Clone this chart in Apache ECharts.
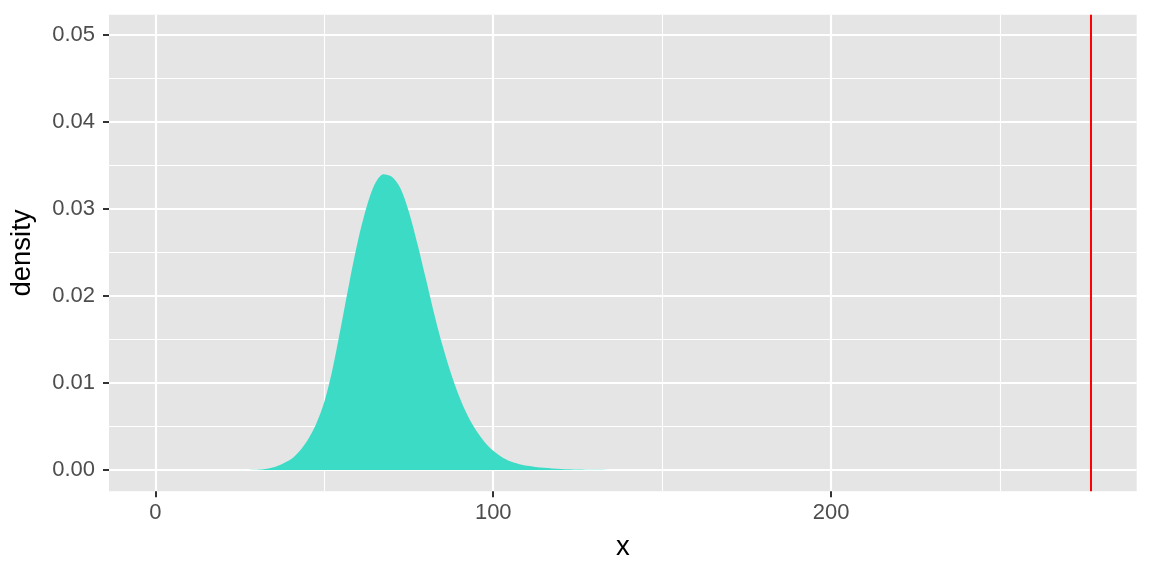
<!DOCTYPE html>
<html>
<head>
<meta charset="utf-8">
<script src="https://cdn.jsdelivr.net/npm/echarts@6/dist/echarts.min.js"></script>
<style>
html,body{margin:0;padding:0;background:#fff;}
#chart{width:1152px;height:576px;}
</style>
</head>
<body>
<div id="chart"></div>
<script>
// Density curve (x, density)
const xValues = [20, 25, 30, 32.5, 35, 37.5, 40, 42.5, 45, 47.5, 50, 52.5, 55, 57.5, 60, 62.5, 65, 67.5, 70, 72.5, 75, 77.5, 80, 82.5, 85, 87.5, 90, 92.5, 95, 97.5, 100, 102.5, 105, 107.5, 110, 115, 120, 125, 130, 135, 140, 150];
const densityValues = [0, 0, 0.00003, 0.0001, 0.0003, 0.0007, 0.0012, 0.0021, 0.0034, 0.0052, 0.0078, 0.0117, 0.0166, 0.0217, 0.0264, 0.0302, 0.0329, 0.0340, 0.0337, 0.0324, 0.0297, 0.0261, 0.0221, 0.0180, 0.0143, 0.0111, 0.0084, 0.0062, 0.0045, 0.0032, 0.0022, 0.0015, 0.0010, 0.0007, 0.0005, 0.00025, 0.00012, 0.00005, 0.00002, 0, 0, 0];
// Observed value (red vertical line)
const observedValue = [276.7];
// Axis ticks
const xMajorTicks = [0, 100, 200];
const xMinorTicks = [50, 150, 250];
const yMajorTicks = [0, 0.01, 0.02, 0.03, 0.04, 0.05];
const yMinorTicks = [0.005, 0.015, 0.025, 0.035, 0.045];
const xRange = [-13.7, 290.4];
const yRange = [-0.00245, 0.05233];

const chart = echarts.init(document.getElementById('chart'), null, {renderer: 'canvas'});
const FONT = 'Liberation Sans, Arial, Helvetica, sans-serif';
const grid = {left: 108, right: 15.3, top: 14.7, bottom: 84.7, show: true, backgroundColor: '#E5E5E5', borderWidth: 0};

const option = {
  animation: false,
  grid: grid,
  xAxis: [
    {
      type: 'value', min: xRange[0], max: xRange[1], position: 'bottom',
      name: 'x', nameLocation: 'middle', nameGap: 42,
      nameTextStyle: {fontFamily: FONT, fontSize: 27.5, color: '#000000'},
      axisLine: {show: false, onZero: false},
      axisTick: {show: true, length: 6, lineStyle: {color: '#333333', width: 2}, customValues: xMajorTicks},
      axisLabel: {show: true, margin: 11, fontFamily: FONT, fontSize: 22, color: '#4D4D4D', customValues: xMajorTicks,
        formatter: v => String(v)},
      splitLine: {show: true, lineStyle: {color: '#FFFFFF', width: 2.2}},
      z: 1
    },
    {
      type: 'value', min: xRange[0], max: xRange[1], position: 'bottom',
      axisLine: {show: false, onZero: false},
      axisLabel: {show: false},
      axisTick: {show: false, customValues: xMinorTicks},
      splitLine: {show: true, lineStyle: {color: '#FFFFFF', width: 1.1}},
      z: 0
    }
  ],
  yAxis: [
    {
      type: 'value', min: yRange[0], max: yRange[1], position: 'left',
      name: 'density', nameLocation: 'middle', nameGap: 73, nameRotate: 90,
      nameTextStyle: {fontFamily: FONT, fontSize: 27.5, color: '#000000'},
      axisLine: {show: false, onZero: false},
      axisTick: {show: true, length: 6, lineStyle: {color: '#333333', width: 2}, customValues: yMajorTicks},
      axisLabel: {show: true, margin: 14, fontFamily: FONT, fontSize: 22, color: '#4D4D4D', customValues: yMajorTicks,
        formatter: v => v.toFixed(2)},
      splitLine: {show: true, lineStyle: {color: '#FFFFFF', width: 2.2}},
      z: 1
    },
    {
      type: 'value', min: yRange[0], max: yRange[1], position: 'left',
      axisLine: {show: false, onZero: false},
      axisLabel: {show: false},
      axisTick: {show: false, customValues: yMinorTicks},
      splitLine: {show: true, lineStyle: {color: '#FFFFFF', width: 1.1}},
      z: 0
    }
  ],
  series: [
    {
      type: 'line',
      xAxisIndex: 0, yAxisIndex: 0,
      data: xValues.map((x, i) => [x, densityValues[i]]),
      smooth: 0.3,
      showSymbol: false,
      symbol: 'none',
      lineStyle: {width: 0, color: '#3BDBC5'},
      areaStyle: {color: '#3BDBC5', opacity: 1},
      silent: true,
      z: 3,
      markLine: {
        silent: true,
        symbol: ['none', 'none'],
        label: {show: false},
        lineStyle: {color: '#FF0000', width: 2, type: 'solid'},
        data: observedValue.map(v => ({xAxis: v}))
      }
    }
  ]
};
chart.setOption(option);
</script>
</body>
</html>
